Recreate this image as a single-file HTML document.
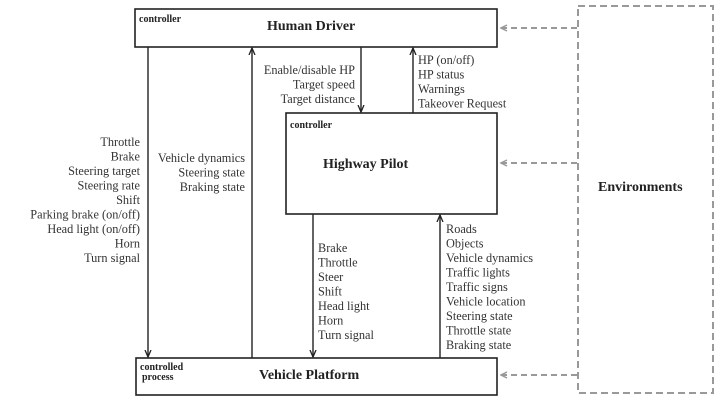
<!DOCTYPE html>
<html><head><meta charset="utf-8"><style>
html,body{margin:0;padding:0;background:#fff;}
svg text{font-family:"Liberation Serif",serif;fill:#333;}
</style></head><body>
<svg width="720" height="401" viewBox="0 0 720 401" xmlns="http://www.w3.org/2000/svg">
<defs>
<marker id="a" markerWidth="8" markerHeight="8" refX="7" refY="4" orient="auto" markerUnits="userSpaceOnUse">
<path d="M0,1 L7,4 L0,7" fill="none" stroke="#222" stroke-width="1.3"/></marker>
<marker id="g" markerWidth="8" markerHeight="8" refX="7" refY="4" orient="auto" markerUnits="userSpaceOnUse">
<path d="M1,1 L7,4 L1,7" fill="none" stroke="#999" stroke-width="1.5"/></marker>
</defs>
<g fill="none" stroke="#222" stroke-width="1.6">
<rect x="135" y="9" width="362" height="38"/>
<rect x="286" y="113" width="211" height="101"/>
<rect x="136" y="358" width="361" height="37"/>
</g>
<rect x="578" y="6" width="135" height="387" fill="none" stroke="#999" stroke-width="2" stroke-dasharray="7,4"/>
<g stroke="#999" stroke-width="2" stroke-dasharray="6,4">
<line x1="577" y1="28" x2="501" y2="28" marker-end="url(#g)"/>
<line x1="577" y1="163" x2="501" y2="163" marker-end="url(#g)"/>
<line x1="577" y1="375" x2="501" y2="375" marker-end="url(#g)"/>
</g>
<g stroke="#222" stroke-width="1.4">
<line x1="148" y1="47" x2="148" y2="357" marker-end="url(#a)"/>
<line x1="252" y1="358" x2="252" y2="48" marker-end="url(#a)"/>
<line x1="361" y1="47" x2="361" y2="112" marker-end="url(#a)"/>
<line x1="413" y1="113" x2="413" y2="48" marker-end="url(#a)"/>
<line x1="313" y1="214" x2="313" y2="357" marker-end="url(#a)"/>
<line x1="440" y1="358" x2="440" y2="215" marker-end="url(#a)"/>
</g>
<g font-weight="bold">
<text x="139" y="22" font-size="10" style="fill:#222">controller</text>
<text x="267" y="30" font-size="14" style="fill:#222">Human Driver</text>
<text x="290" y="128" font-size="10" style="fill:#222">controller</text>
<text x="323" y="168" font-size="14" style="fill:#222">Highway Pilot</text>
<text x="140" y="370" font-size="10" style="fill:#222">controlled</text>
<text x="142" y="380" font-size="10" style="fill:#222">process</text>
<text x="259" y="379" font-size="14" style="fill:#222">Vehicle Platform</text>
<text x="598" y="191" font-size="14" style="fill:#222">Environments</text>
</g>
<g font-size="12.3">
<g text-anchor="end">
<text x="140" y="146">Throttle</text>
<text x="140" y="160.5">Brake</text>
<text x="140" y="175">Steering target</text>
<text x="140" y="189.5">Steering rate</text>
<text x="140" y="204">Shift</text>
<text x="140" y="218.5">Parking brake (on/off)</text>
<text x="140" y="233">Head light (on/off)</text>
<text x="140" y="247.5">Horn</text>
<text x="140" y="262">Turn signal</text>
<text x="245" y="162">Vehicle dynamics</text>
<text x="245" y="176.5">Steering state</text>
<text x="245" y="191">Braking state</text>
<text x="355" y="74">Enable/disable HP</text>
<text x="355" y="88.5">Target speed</text>
<text x="355" y="103">Target distance</text>
</g>
<text x="418" y="64">HP (on/off)</text>
<text x="418" y="78.5">HP status</text>
<text x="418" y="93">Warnings</text>
<text x="418" y="107.5">Takeover Request</text>
<text x="318" y="252">Brake</text>
<text x="318" y="266.5">Throttle</text>
<text x="318" y="281">Steer</text>
<text x="318" y="295.5">Shift</text>
<text x="318" y="310">Head light</text>
<text x="318" y="324.5">Horn</text>
<text x="318" y="339">Turn signal</text>
<text x="446" y="233">Roads</text>
<text x="446" y="247.5">Objects</text>
<text x="446" y="262">Vehicle dynamics</text>
<text x="446" y="276.5">Traffic lights</text>
<text x="446" y="291">Traffic signs</text>
<text x="446" y="305.5">Vehicle location</text>
<text x="446" y="320">Steering state</text>
<text x="446" y="334.5">Throttle state</text>
<text x="446" y="349">Braking state</text>
</g>
</svg>
</body></html>
